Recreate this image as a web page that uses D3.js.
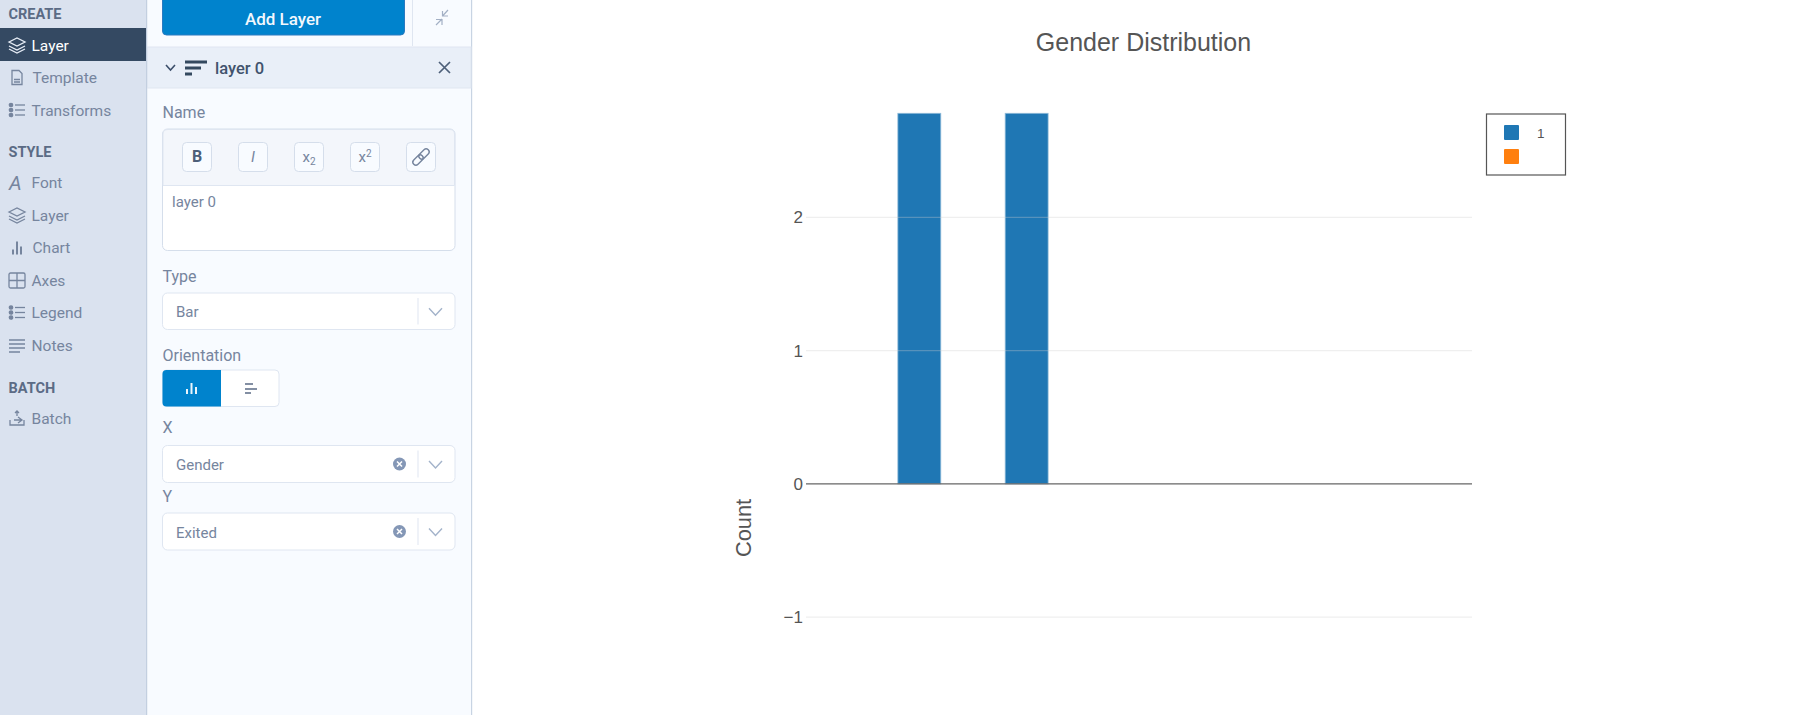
<!DOCTYPE html>
<html>
<head>
<meta charset="utf-8">
<script src="https://cdn.jsdelivr.net/npm/d3@7"></script>
<style>
  html, body { margin: 0; padding: 0; background: #fff; overflow: hidden; }
  svg { display: block; }
  text { font-family: Roboto, sans-serif; }
  .chart text { font-family: "Liberation Sans", Arial, sans-serif; }
</style>
</head>
<body>
<div id="graphArea"></div>
<script>
// chart data
const chartTitle = "Gender Distribution";
const yTitle = "Count";
const barSlots = [0, 1];
const barValues = [2.78, 2.78];
const yTicks = [-1, 0, 1, 2];
const legendLabels = ["1", ""];
const legendColors = ["#1f77b4", "#ff7f0e"];

// editor panel text
const createItems = ["Layer", "Template", "Transforms"];
const styleItems = ["Font", "Layer", "Chart", "Axes", "Legend", "Notes"];
const batchItems = ["Batch"];
const toolButtons = ["B", "I", "x2", "x2up", "link"];

const width = 1815;
const height = 715;

const svg = d3.select("#graphArea")
  .append("svg")
  .attr("width", width)
  .attr("height", height);

/// side panel

const menu = svg.append("g");
menu.append("rect").attr("width", 147).attr("height", height).attr("fill", "#dae2ef");
menu.append("rect").attr("x", 146).attr("width", 1.5).attr("height", height).attr("fill", "#c3cfe0");
menu.append("rect").attr("y", 28).attr("width", 146).attr("height", 33).attr("fill", "#344962");

const dim = "#76859e";
const head = "#5b6b85";

function menuHead(label, y) {
  menu.append("text").attr("x", 8.5).attr("y", y).text(label)
    .attr("font-size", 14.5).attr("font-weight", 700).attr("fill", head);
}

function menuIcon(name, y, color) {
  const g = menu.append("g").attr("transform", "translate(17," + y + ")")
    .attr("fill", "none").attr("stroke", color).attr("stroke-width", 1.3);
  if (name == "Layer") {
    g.append("path").attr("d", "M-8,-3 L0,-7 L8,-3 L0,1 Z");
    g.append("path").attr("d", "M-8,1 L0,5 L8,1 M-8,4 L0,8 L8,4");
  } else if (name == "Template") {
    g.append("path").attr("d", "M-5,-7 H2 L5,-4 V7 H-5 Z M-3,2 H3 M-3,4.5 H3");
  } else if (name == "Transforms" || name == "Legend") {
    [-5, 0, 5].forEach((d) => {
      g.append("circle").attr("cx", -6).attr("cy", d).attr("r", 1.7).attr("fill", color);
      g.append("path").attr("d", "M-2," + d + " H8");
    });
  } else if (name == "Font") {
    g.append("text").attr("x", -8).attr("y", 7).text("A").attr("stroke", "none").attr("fill", color)
      .attr("font-size", 20).attr("font-style", "italic").attr("font-family", "Liberation Serif");
  } else if (name == "Chart") {
    g.attr("stroke-width", 2).append("path").attr("d", "M-4,7 V2 M0,7 V-6 M4,7 V-1");
  } else if (name == "Axes") {
    g.append("rect").attr("x", -8).attr("y", -7).attr("width", 16).attr("height", 15).attr("rx", 1.5);
    g.append("path").attr("d", "M0,-7 V8 M-8,0.5 H8");
  } else if (name == "Notes") {
    g.attr("stroke-width", 1.6).append("path").attr("d", "M-8,-5 H8 M-8,-1 H8 M-8,3 H8 M-8,7 H3");
  } else {
    g.append("path").attr("d", "M-7,2 V7 H7 V2 M-3,2 H5 M1,-1 L5,2 L1,5 M0,-7 V-2 M-2,-5 L0,-7 L2,-5");
  }
}

function menuRow(name, y, active) {
  menuIcon(name, y, active ? "#e8eef7" : dim);
  menu.append("text").attr("x", name == "Template" || name == "Chart" ? 32.5 : 31.5).attr("y", y + 5.5).text(name)
    .attr("font-size", 15.5).attr("fill", active ? "#fff" : dim);
}

menuHead("CREATE", 19);
createItems.forEach((d, i) => menuRow(d, 45 + i * 32.5, i == 0));
menuHead("STYLE", 157);
styleItems.forEach((d, i) => menuRow(d, 182.5 + i * 32.5, false));
menuHead("BATCH", 392.5);
batchItems.forEach((d, i) => menuRow(d, 418 + i * 32.5, false));

/// layer panel

const panel = svg.append("g");
panel.append("rect").attr("x", 147.5).attr("width", 324).attr("height", height).attr("fill", "#f8fbff");
panel.append("rect").attr("x", 471).attr("width", 1.2).attr("height", height).attr("fill", "#c8d4e3");
panel.append("rect").attr("x", 412).attr("width", 1).attr("height", 46).attr("fill", "#dfe6f1");

// add layer button
panel.append("rect").attr("x", 162.5).attr("y", -4).attr("width", 242).attr("height", 39).attr("rx", 4)
  .attr("fill", "#0083cd").attr("stroke", "#2a7ac0");
panel.append("text").attr("x", 283).attr("y", 24.5).attr("text-anchor", "middle").text("Add Layer")
  .attr("font-size", 17).attr("font-weight", 500).attr("fill", "#f2f8fd");
panel.append("path").attr("d", "M436,25 L442,19 M436,19.5 H442 V25 M448,10 L442.5,16 M442.5,11 V16 H448")
  .attr("fill", "none").attr("stroke", "#a3b0c5").attr("stroke-width", 1.2);

// layer header
panel.append("rect").attr("x", 147.5).attr("y", 47).attr("width", 323.5).attr("height", 41)
  .attr("fill", "#e9eff8").attr("stroke", "#dfe6f1");
panel.append("path").attr("d", "M166,65 L170.5,70 L175,65").attr("fill", "none").attr("stroke", "#3c4f6b").attr("stroke-width", 1.6);
panel.append("path").attr("d", "M185,62 H207 M185,68 H201 M185,74 H192").attr("stroke", "#34495f").attr("stroke-width", 3);
panel.append("text").attr("x", 215).attr("y", 74).text("layer 0")
  .attr("font-size", 16.5).attr("font-weight", 500).attr("fill", "#41536d");
panel.append("path").attr("d", "M439,62 L450,73 M450,62 L439,73").attr("stroke", "#4d5f79").attr("stroke-width", 1.7);

function fieldLabel(label, y) {
  panel.append("text").attr("x", 162.5).attr("y", y).text(label)
    .attr("font-size", 16).attr("fill", dim);
}

function selectBox(label, y, h, clearable) {
  panel.append("rect").attr("x", 162.5).attr("y", y).attr("width", 292.5).attr("height", h).attr("rx", 5)
    .attr("fill", "#fff").attr("stroke", "#dfe6f1");
  panel.append("text").attr("x", 176).attr("y", y + h / 2 + 6).text(label)
    .attr("font-size", 15).attr("fill", dim);
  panel.append("rect").attr("x", 417.5).attr("y", y + 5).attr("width", 1).attr("height", h - 10).attr("fill", "#dfe6f1");
  const cy = y + h / 2;
  panel.append("path").attr("d", "M429," + (cy - 3) + " L435.5," + (cy + 4) + " L442," + (cy - 3))
    .attr("fill", "none").attr("stroke", "#a3b3ca").attr("stroke-width", 1.4);
  if (clearable) {
    panel.append("circle").attr("cx", 399.5).attr("cy", cy).attr("r", 6.5).attr("fill", "#8497b6");
    panel.append("path").attr("d", "M397," + (cy - 2.5) + " l5,5 m0,-5 l-5,5").attr("stroke", "#fff").attr("stroke-width", 1.5);
  }
}

fieldLabel("Name", 118);
panel.append("rect").attr("x", 162.5).attr("y", 129).attr("width", 292.5).attr("height", 121.5).attr("rx", 5)
  .attr("fill", "#fff").attr("stroke", "#d5deeb");
panel.append("path").attr("d", "M163,185.5 V134 Q163,129.5 168,129.5 H450 Q454.5,129.5 454.5,134 V185.5 Z")
  .attr("fill", "#f3f6fb").attr("stroke", "#dfe6f1");

const toolX = d3.scalePoint().domain(toolButtons).range([197, 421]);
toolButtons.forEach((d) => {
  const x = toolX(d);
  panel.append("rect").attr("x", x - 14.5).attr("y", 142.5).attr("width", 29).attr("height", 29).attr("rx", 4)
    .attr("fill", "#f8fbff").attr("stroke", "#d5deeb");
  const lab = panel.append("text").attr("x", x).attr("y", 162).attr("text-anchor", "middle").attr("fill", dim).attr("font-size", 15);
  if (d == "B") lab.text("B").attr("font-weight", 700).attr("font-size", 16).attr("fill", "#4d5f79");
  else if (d == "I") lab.text("I").attr("font-style", "italic");
  else if (d == "x2") {
    lab.text("x");
    lab.append("tspan").text("2").attr("font-size", 10).attr("dy", 3);
  } else if (d == "x2up") {
    lab.text("x");
    lab.append("tspan").text("2").attr("font-size", 10).attr("dy", -5);
  } else {
    lab.remove();
    // chain link, two loops along the diagonal
    [[-3, 3], [3, -3]].forEach((o) => {
      panel.append("rect").attr("x", -6).attr("y", -3).attr("width", 12).attr("height", 6).attr("rx", 3)
        .attr("transform", "translate(" + (x + o[0]) + "," + (157 + o[1]) + ") rotate(-45)")
        .attr("fill", "none").attr("stroke", dim).attr("stroke-width", 1.4);
    });
  }
});
panel.append("text").attr("x", 172).attr("y", 207).text("layer 0").attr("font-size", 15).attr("fill", dim);

fieldLabel("Type", 281.5);
selectBox("Bar", 293, 36.5, false);
fieldLabel("Orientation", 360.5);

// orientation toggle
panel.append("rect").attr("x", 162.5).attr("y", 370).attr("width", 116.5).attr("height", 36.5).attr("rx", 4)
  .attr("fill", "#fff").attr("stroke", "#dfe6f1");
panel.append("path").attr("d", "M166.5,370 H221 V406.5 H166.5 Q162.5,406.5 162.5,402.5 V374 Q162.5,370 166.5,370 Z").attr("fill", "#0083cd");
panel.append("path").attr("d", "M187,394 V389 M191.5,394 V383 M196,394 V387").attr("stroke", "#eaf5fc").attr("stroke-width", 2);
panel.append("path").attr("d", "M245,384 H253 M245,389 H257 M245,393 H251").attr("stroke", "#5b6b85").attr("stroke-width", 1.4);

fieldLabel("X", 433);
selectBox("Gender", 445.5, 37, true);
fieldLabel("Y", 502);
selectBox("Exited", 513, 37, true);

/// chart

const chart = svg.append("g").attr("class", "chart");
const plotLeft = 806, plotRight = 1472, plotTop = 113.3, plotBottom = 617.2;

var xScale = d3.scaleLinear().domain([-1.056, 5.15]).range([plotLeft, plotRight]);
var yScale = d3.scaleLinear().domain([-1, 2.78]).range([plotBottom, plotTop]);
var barWidth = xScale(0.4) - xScale(0);

chart.selectAll("rect.bar")
  .data(barValues)
  .enter()
  .append("rect")
  .attr("class", "bar")
  .attr("x", (d, i) => xScale(barSlots[i]) - barWidth / 2)
  .attr("y", (d) => yScale(d))
  .attr("width", barWidth)
  .attr("height", (d) => yScale(0) - yScale(d))
  .attr("fill", "#1f77b4")
  .attr("stroke", "#8fbbd9")
  .attr("stroke-width", 0.8);

// grid sits over the bars, it shows through them in the original
const yAxis = d3.axisLeft(yScale).tickValues(yTicks).tickFormat(d3.format("d")).tickSize(0).tickPadding(3);
const axisG = chart.append("g").attr("transform", "translate(" + plotLeft + ",0)").call(yAxis);
axisG.select(".domain").remove();
axisG.selectAll("text").attr("font-size", 17).attr("fill", "#555")
  .attr("font-family", "Liberation Sans");

chart.append("g")
  .selectAll("line")
  .data(yTicks.filter((d) => d != 0))
  .enter()
  .append("line")
  .attr("x1", plotLeft).attr("x2", plotRight)
  .attr("y1", (d) => yScale(d)).attr("y2", (d) => yScale(d))
  .attr("stroke", "rgb(205,205,205)").attr("stroke-opacity", 0.32).attr("stroke-width", 1.2);

chart.append("line")
  .attr("x1", plotLeft).attr("x2", plotRight)
  .attr("y1", yScale(0)).attr("y2", yScale(0))
  .attr("stroke", "#666").attr("stroke-width", 1.3);

chart.append("text").attr("x", 1143.5).attr("y", 51).attr("text-anchor", "middle")
  .text(chartTitle).attr("font-size", 25).attr("fill", "#555");

chart.append("text").attr("transform", "translate(751,528) rotate(-90)").attr("text-anchor", "middle")
  .text(yTitle).attr("font-size", 21.8).attr("fill", "#555");

// legend
const legend = chart.append("g");
legend.append("rect").attr("x", 1486.5).attr("y", 114).attr("width", 79).attr("height", 61)
  .attr("fill", "#fff").attr("stroke", "#555").attr("stroke-width", 1.2);
const legendItem = legend.selectAll("g")
  .data(legendLabels)
  .enter()
  .append("g")
  .attr("transform", (d, i) => "translate(1504," + (125 + i * 24) + ")");
legendItem.append("rect").attr("width", 15).attr("height", 15).attr("rx", 1)
  .attr("fill", (d, i) => legendColors[i]);
legendItem.append("text").attr("x", 33).attr("y", 12.5).text((d) => d)
  .attr("font-size", 13.5).attr("fill", "#555");
</script>
</body>
</html>
